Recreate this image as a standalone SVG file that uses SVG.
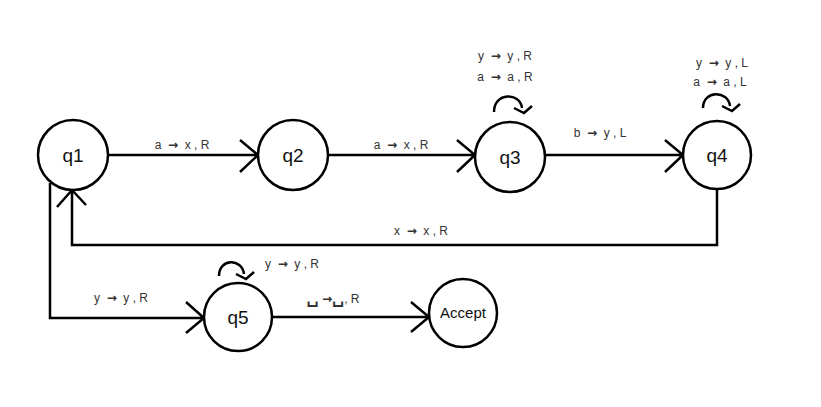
<svg xmlns="http://www.w3.org/2000/svg" width="821" height="407" viewBox="0 0 821 407">
<style>
.n{fill:#fff;stroke:#000;stroke-width:2.5}
.t{font-family:"Liberation Sans",Arial,sans-serif;font-size:19px;text-anchor:middle;fill:#111}
.l{font-family:"Liberation Sans",Arial,sans-serif;font-size:12px;fill:#333;text-anchor:middle;white-space:pre}
.a{font-family:"DejaVu Sans",sans-serif;font-size:12px;font-weight:bold}
.b{font-family:"DejaVu Sans",sans-serif;font-size:17px;font-weight:bold}
.e{fill:none;stroke:#000;stroke-width:2.5}
</style>
<rect width="821" height="407" fill="#fff"/>
<g id="connectors">
<path class="e" d="M108 155H258M240 140L258 155L240 172"/>
<path class="e" d="M327 155H475M457 140L475 155L457 172"/>
<path class="e" d="M545 155H683M665 140L683 155L665 172"/>
<path class="e" d="M717 190V245H72V190M57 207L72 190L86 205"/>
<path class="e" d="M50 183V318H204M186 302L204 318L186 333"/>
<path class="e" d="M272 317H429M411 302L429 317L411 332"/>
<path class="e" d="M494 112C494 92 520 92 522 108M514 108L524 113L532 106"/>
<path class="e" d="M703 108C703 90 728 90 730 106M722 106L732 111L740 104"/>
<path class="e" d="M219 276C219 258 242 258 244 274M236 274L246 279L254 272"/>
<text class="l" x="182" y="149" xml:space="preserve">a  <tspan class="a">→</tspan>  x , R</text>
<text class="l" x="401" y="149" xml:space="preserve">a  <tspan class="a">→</tspan>  x , R</text>
<text class="l" x="600" y="137" xml:space="preserve">b  <tspan class="a">→</tspan>  y , L</text>
<text class="l" x="505" y="60" xml:space="preserve">y  <tspan class="a">→</tspan>  y , R</text>
<text class="l" x="505" y="81" xml:space="preserve">a  <tspan class="a">→</tspan>  a , R</text>
<text class="l" x="722" y="67" xml:space="preserve">y  <tspan class="a">→</tspan>  y , L</text>
<text class="l" x="720" y="86" xml:space="preserve">a  <tspan class="a">→</tspan>  a , L</text>
<text class="l" x="421" y="235" xml:space="preserve">x  <tspan class="a">→</tspan>  x , R</text>
<text class="l" x="292" y="268" xml:space="preserve">y  <tspan class="a">→</tspan>  y , R</text>
<text class="l" x="121" y="302" xml:space="preserve">y  <tspan class="a">→</tspan>  y , R</text>
<text class="l" x="333" y="303" xml:space="preserve"><tspan class="b">␣</tspan> <tspan class="a">→</tspan><tspan class="b">␣</tspan>, R</text>
</g>
<g id="q1"><circle class="n" cx="73" cy="155" r="35"/><text class="t" x="73" y="162">q1</text></g>
<g id="q2"><circle class="n" cx="293" cy="155" r="35"/><text class="t" x="293" y="162">q2</text></g>
<g id="q3"><circle class="n" cx="510" cy="157" r="35"/><text class="t" x="510" y="164">q3</text></g>
<g id="q4"><circle class="n" cx="717" cy="155" r="34"/><text class="t" x="717" y="162">q4</text></g>
<g id="q5"><circle class="n" cx="238" cy="317" r="34"/><text class="t" x="238" y="324">q5</text></g>
<g id="accept"><circle class="n" cx="463" cy="313" r="34"/><text class="t" x="463" y="318" style="font-size:15px">Accept</text></g>
</svg>
